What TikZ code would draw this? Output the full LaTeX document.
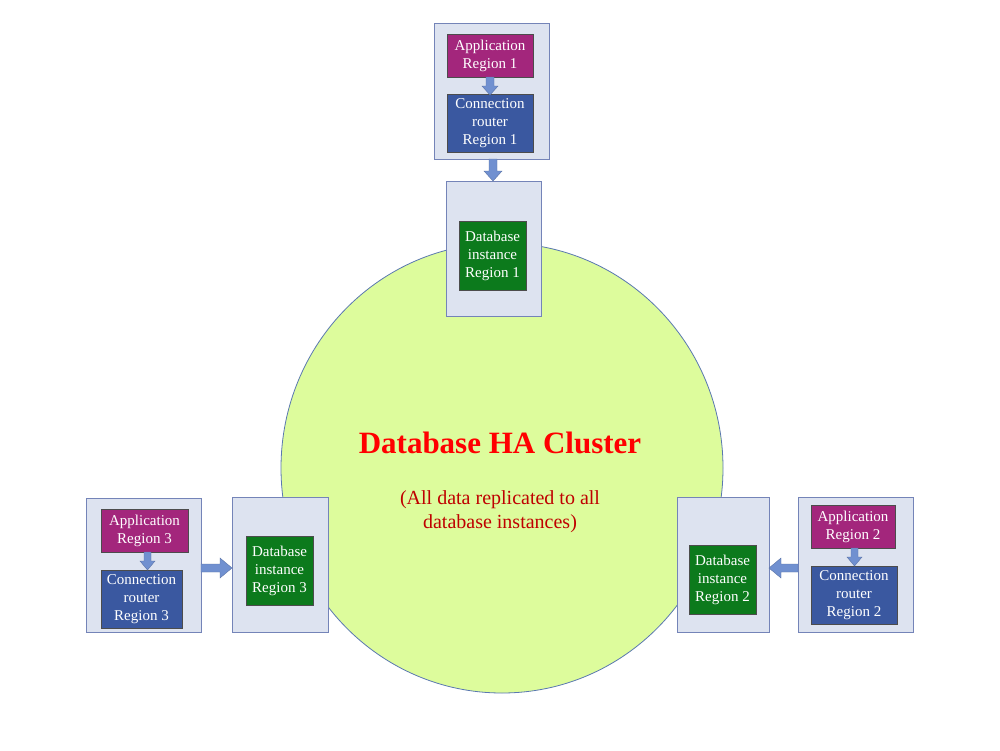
\documentclass[tikz,border=0pt]{standalone}
\usepackage{fontspec}
\setmainfont{Liberation Serif}
\usetikzlibrary{arrows.meta,shapes.geometric}
\definecolor{outerf}{HTML}{DDE3F0}
\definecolor{outerd}{HTML}{7484B8}
\definecolor{appc}{HTML}{A3267C}
\definecolor{connc}{HTML}{3A58A0}
\definecolor{dbc}{HTML}{0C7A1C}
\definecolor{circf}{HTML}{DDFC9C}
\definecolor{circd}{HTML}{5A78B0}
\definecolor{arr}{HTML}{7090D0}
\begin{document}
\begin{tikzpicture}[x=1pt,y=-1pt,
  outer/.style={draw=outerd,fill=outerf,line width=0.8pt},
  inner/.style={draw=black!70,line width=0.6pt},
  lbl/.style={text=white,font=\fontsize{15}{18}\selectfont,align=center},
  blk/.style={draw=arr!80!black,fill=arr,line width=0.4pt}]
\useasboundingbox (0,0) rectangle (1000,750);
\fill[white] (0,0) rectangle (1000,750);
\node[draw=circd,fill=circf,line width=0.8pt,ellipse,minimum width=442pt,minimum height=450pt,inner sep=0] (cl) at (502,468) {};
\node[text=red,font=\bfseries\fontsize{31}{36}\selectfont] (title) at (500,443) {Database HA Cluster};
\node[text=red!75!black,font=\fontsize{20}{24}\selectfont,align=center] (sub) at (500,512) {(All data replicated to all\\database instances)};
\newcommand{\bx}[6]{\path[#1] (#2,#3) rectangle (#4,#5); \node[lbl] at ({(#2+#4)/2},{(#3+#5)/2}) {#6};}
% top
\draw[outer] (434,23) rectangle (549,159);
\draw[outer] (446,181) rectangle (541,316);
\bx{inner,fill=appc}{447}{34}{533}{77}{Application\\Region 1}
\bx{inner,fill=connc}{447}{94}{533}{152}{Connection\\router\\Region 1}
\bx{inner,fill=dbc}{459}{221}{526}{290}{Database\\instance\\Region 1}
% left
\draw[outer] (86,498) rectangle (201,632);
\draw[outer] (232,497) rectangle (328,632);
\bx{inner,fill=appc}{101}{509}{188}{552}{Application\\Region 3}
\bx{inner,fill=connc}{101}{570}{182}{628}{Connection\\router\\Region 3}
\bx{inner,fill=dbc}{246}{536}{313}{605}{Database\\instance\\Region 3}
% right
\draw[outer] (798,497) rectangle (913,632);
\draw[outer] (677,497) rectangle (769,632);
\bx{inner,fill=appc}{811}{505}{895}{548}{Application\\Region 2}
\bx{inner,fill=connc}{811}{566}{897}{624}{Connection\\router\\Region 2}
\bx{inner,fill=dbc}{689}{545}{756}{614}{Database\\instance\\Region 2}
% block arrows
\path[blk] (486,77)--(494,77)--(494,86)--(498,86)--(490,95)--(482,86)--(486,86)--cycle;
\path[blk] (489,159)--(497,159)--(497,171)--(502,171)--(493,181)--(484,171)--(489,171)--cycle;
\path[blk] (144,552)--(151,552)--(151,561)--(155,561)--(147.5,570)--(140,561)--(144,561)--cycle;
\path[blk] (851,548)--(858,548)--(858,557)--(862,557)--(854.5,566)--(847,557)--(851,557)--cycle;
\path[blk] (201,564)--(220,564)--(220,558)--(232,568)--(220,578)--(220,572)--(201,572)--cycle;
\path[blk] (798,564)--(781,564)--(781,558)--(769,568)--(781,578)--(781,572)--(798,572)--cycle;
\end{tikzpicture}
\end{document}
